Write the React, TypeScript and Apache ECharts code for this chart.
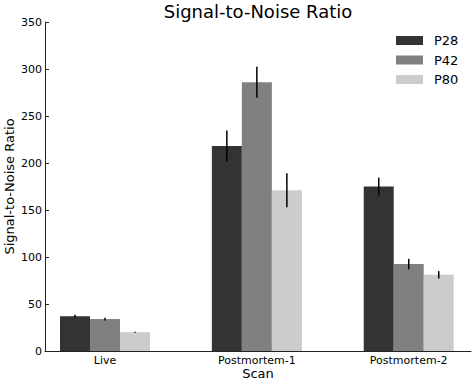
import React, { useEffect, useRef } from "react";
import * as echarts from "echarts";

const categories = ["Live", "Postmortem-1", "Postmortem-2"];
const seriesNames = ["P28", "P42", "P80"];
const p28 = [37, 218, 175];
const p42 = [34, 286, 92.5];
const p80 = [20, 171, 81];
const p28Err = [1.5, 16.5, 9.5];
const p42Err = [1.5, 16.5, 5.5];
const p80Err = [0.5, 18, 4];
const colors = ["#333333", "#808080", "#cccccc"];
const yTicks = { min: 0, max: 350, interval: 50 };

const FONT = "DejaVu Sans";
const BAR_W = 30;

export default function App() {
  const ref = useRef<HTMLDivElement>(null);
  useEffect(() => {
    if (!ref.current) return;
    const chart = echarts.init(ref.current, undefined, { renderer: "svg" });
    const values = [p28, p42, p80];
    const errs = [p28Err, p42Err, p80Err];
    const barSeries = seriesNames.map((name, s) => ({
      name,
      type: "bar",
      barWidth: BAR_W,
      barGap: "0%",
      itemStyle: { color: colors[s] },
      data: values[s].map((v, i) => [i, v]),
      z: 2,
    }));
    const errSeries = seriesNames.map((name, s) => ({
      type: "custom",
      name: name + "-err",
      data: values[s].map((v, i) => [i, v - errs[s][i], v + errs[s][i]]),
      z: 5,
      renderItem: (params: any, api: any) => {
        const x = api.value(0);
        const lo = api.coord([x, api.value(1)]);
        const hi = api.coord([x, api.value(2)]);
        const dx = (s - 1) * BAR_W;
        return {
          type: "line",
          shape: { x1: lo[0] + dx, y1: lo[1], x2: hi[0] + dx, y2: hi[1] },
          style: { stroke: "#000", lineWidth: 1.5 },
        };
      },
    }));
    chart.setOption({
      animation: false,
      textStyle: { fontFamily: FONT },
      graphic: [
        {
          type: "text",
          x: 258,
          y: 2,
          style: {
            text: "Signal-to-Noise Ratio",
            textAlign: "center",
            fill: "#000",
            fontFamily: FONT,
            fontSize: 18,
          },
        },
      ],
      legend: {
        orient: "vertical",
        left: 391,
        top: 29,
        itemWidth: 27,
        itemHeight: 9,
        itemGap: 6.5,
        data: seriesNames,
        textStyle: { fontFamily: FONT, fontSize: 13, color: "#000", padding: [0, 0, 0, 6] },
        icon: "rect",
      },
      grid: { left: 45, top: 22, right: 3, bottom: 31, containLabel: false, outerBoundsMode: "none" },
      xAxis: {
        type: "value",
        min: -0.395,
        max: 2.41,
        splitLine: { show: false },
        axisLine: { onZero: false, lineStyle: { color: "#222", width: 1 } },
        axisTick: { inside: true, length: 4, customValues: [0, 1, 2], lineStyle: { color: "#222" } },
        axisLabel: {
          customValues: [0, 1, 2],
          formatter: (v: number) => categories[Math.round(v)] ?? "",
          color: "#000",
          fontFamily: FONT,
          fontSize: 11,
          margin: 4,
        },
        name: "Scan",
        nameLocation: "middle",
        nameGap: 16,
        nameMoveOverlap: false,
        nameTextStyle: { fontFamily: FONT, fontSize: 13, color: "#000" },
      },
      yAxis: {
        type: "value",
        min: yTicks.min,
        max: yTicks.max,
        interval: yTicks.interval,
        splitLine: { show: false },
        axisLine: { show: true, onZero: false, lineStyle: { color: "#222", width: 1 } },
        axisTick: { show: true, inside: true, length: 4, lineStyle: { color: "#222" } },
        axisLabel: { color: "#000", fontFamily: FONT, fontSize: 11, margin: 3 },
        name: "Signal-to-Noise Ratio",
        nameLocation: "middle",
        nameGap: 29,
        nameMoveOverlap: false,
        nameRotate: 90,
        nameTextStyle: { fontFamily: FONT, fontSize: 13, color: "#000" },
      },
      series: [...barSeries, ...errSeries],
    });
    return () => chart.dispose();
  }, []);
  return (
    <div
      ref={ref}
      style={{ position: "fixed", left: 0, top: 0, width: 474, height: 382, background: "#fff" }}
    />
  );
}
